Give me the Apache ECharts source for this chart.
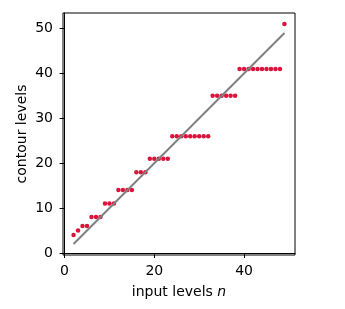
<!DOCTYPE html>
<html>
<head>
<meta charset="utf-8">
<script src="https://cdn.jsdelivr.net/npm/echarts@6/dist/echarts.min.js"></script>
<style>html,body{margin:0;padding:0;background:#fff;}#c{width:345px;height:309px;}</style>
</head>
<body>
<div id="c"></div>
<script>
var inputLevels = [2,3,4,5,6,7,8,9,10,11,12,13,14,15,16,17,18,19,20,21,22,23,24,25,26,27,28,29,30,31,32,33,34,35,36,37,38,39,40,41,42,43,44,45,46,47,48,49];
var contourLevels = [4,5,6,6,8,8,8,11,11,11,14,14,14,14,18,18,18,21,21,21,21,21,26,26,26,26,26,26,26,26,26,35,35,35,35,35,35,41,41,41,41,41,41,41,41,41,41,51];
var identityLine = [[2,2],[49,49]];
var xTicks = [0,20,40];
var yTicks = [0,10,20,30,40,50];

var font = 'DejaVu Sans';
var chart = echarts.init(document.getElementById('c'), null, {renderer:'canvas'});
chart.setOption({
  animation:false,
  grid:{left:63,right:50,top:13,bottom:54,show:true,borderColor:'#000',borderWidth:1,backgroundColor:'transparent'},
  xAxis:{type:'value',min:-0.35,max:51.35,
    name:'input levels {i|n}',nameLocation:'middle',nameGap:30,nameMoveOverlap:false,
    nameTextStyle:{fontFamily:font,fontSize:14,color:'#000',rich:{i:{fontStyle:'italic',fontFamily:font,fontSize:14,color:'#000'}}},
    axisLine:{show:true,lineStyle:{color:'#000',width:1}},
    axisTick:{show:true,length:5,lineStyle:{color:'#000',width:1},customValues:xTicks},
    axisLabel:{fontFamily:font,fontSize:14,color:'#000',margin:9,customValues:xTicks},
    splitLine:{show:false}},
  yAxis:{type:'value',min:-0.45,max:53.45,
    name:'contour levels',nameLocation:'middle',nameGap:34,nameMoveOverlap:false,
    nameTextStyle:{fontFamily:font,fontSize:14,color:'#000'},
    axisLine:{show:true,lineStyle:{color:'#000',width:1}},
    axisTick:{show:true,length:5,lineStyle:{color:'#000',width:1},customValues:yTicks},
    axisLabel:{fontFamily:font,fontSize:14,color:'#000',margin:10,customValues:yTicks},
    splitLine:{show:false}},
  series:[
    {type:'scatter',data:inputLevels.map(function(n,i){return [n,contourLevels[i]];}),
      symbolSize:4.5,itemStyle:{color:'#DC143C',opacity:1},z:2},
    {type:'line',data:identityLine,symbol:'none',lineStyle:{color:'#808080',width:2},z:3}
  ]
});
</script>
</body>
</html>
